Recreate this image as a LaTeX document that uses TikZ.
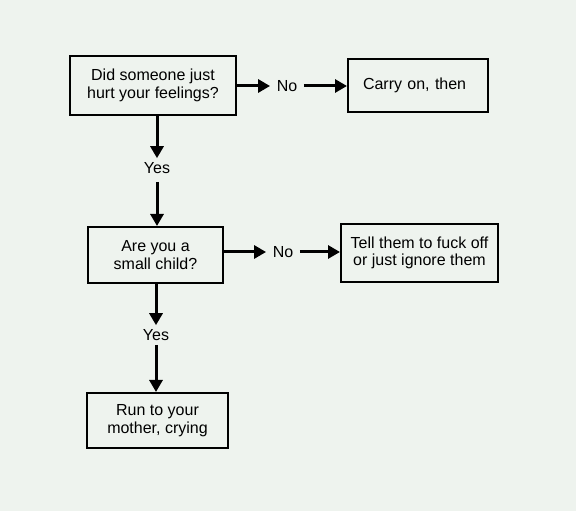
\documentclass[tikz,border=0pt]{standalone}
\usepackage{fontspec}
\setmainfont{Liberation Sans}
\usetikzlibrary{arrows.meta}
\definecolor{bg}{HTML}{EEF3EE}
\begin{document}
\begin{tikzpicture}[x=1pt,y=1pt,
  box/.style={draw=black,line width=2pt,fill=bg,align=center,inner sep=0pt,
    font=\fontsize{16}{17.5}\selectfont},
  lbl/.style={inner xsep=6.5pt,inner ysep=4pt,font=\fontsize{16}{17.5}\selectfont},
  conn/.style={line width=3pt,-{Triangle[length=12pt,width=13pt]}}]
\fill[bg] (0,0) rectangle (576,511);
\useasboundingbox (0,0) rectangle (576,511);
% boxes (y = 511 - pixel y)
\node[box,minimum width=166pt,minimum height=59pt] (b1) at (153,425.5) {Did someone just\\hurt your feelings?};
\node[box,minimum width=140pt,minimum height=53pt,text width=110pt,align=left] (b2) at (418,425.5) {Carry on, then};
\node[box,minimum width=135pt,minimum height=56pt] (b3) at (155.5,256) {Are you a\\small child?};
\node[box,minimum width=157pt,minimum height=58pt] (b4) at (419.5,258) {Tell them to fuck off\\or just ignore them};
\node[box,minimum width=141pt,minimum height=55pt] (b5) at (157.5,90.5) {Run to your\\mother, crying};
% labels
\node[lbl] (n1) at (287,425) {No};
\node[lbl] (y1) at (157,343) {Yes};
\node[lbl] (n2) at (283,259) {No};
\node[lbl] (y2) at (156,176) {Yes};
% connectors
\draw[conn] (b1.east |- n1) -- (n1.west);
\draw[conn] (n1.east) -- (b2.west |- n1);
\draw[conn] (b1.south -| y1) -- (y1.north);
\draw[conn,shorten <=4pt] (y1.south) -- (b3.north -| y1);
\draw[conn] (b3.east |- n2) -- (n2.west);
\draw[conn] (n2.east) -- (b4.west |- n2);
\draw[conn] (b3.south -| y2) -- (y2.north);
\draw[conn] (y2.south) -- (b5.north -| y2);
\end{tikzpicture}
\end{document}
